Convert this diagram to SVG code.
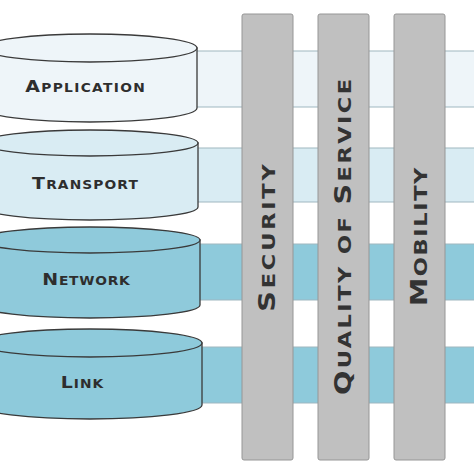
<svg xmlns="http://www.w3.org/2000/svg" width="474" height="474" viewBox="0 0 474 474">
<style>
.band{stroke:#9fb7c0;stroke-width:1}
.cyl{stroke:#3a3a3a;stroke-width:1.3}
.col{fill:#c0c0c0;stroke:#969696;stroke-width:1}
.lbl{font-family:"DejaVu Sans","Liberation Sans",Arial,sans-serif;font-weight:bold;fill:#2e2e2e;text-anchor:middle}
.vl{font-family:"DejaVu Sans","Liberation Sans",Arial,sans-serif;font-weight:bold;fill:#333;text-anchor:middle}
</style>
<rect width="474" height="474" fill="#fff"/>
<g id="bands">
<rect class="band" x="150" y="51" width="330" height="56" fill="#eef5f9"/>
<rect class="band" x="150" y="148" width="330" height="54" fill="#d9ecf3"/>
<rect class="band" x="150" y="244" width="330" height="56" fill="#8ecadb"/>
<rect class="band" x="150" y="347" width="330" height="56" fill="#8ecadb"/>
</g>
<g id="application">
<path class="cyl" fill="#eef5f9" d="M-17,48 L-17,108 A107,14 0 0 0 197,108 L197,48 Z"/>
<ellipse class="cyl" fill="#eef5f9" cx="90" cy="48" rx="107" ry="14"/>
<text class="lbl" transform="translate(85,92) scale(1.15,1)" textLength="104" lengthAdjust="spacing"><tspan font-size="16.5">A</tspan><tspan font-size="12">PPLICATION</tspan></text>
</g>
<g id="transport">
<path class="cyl" fill="#d9ecf3" d="M-18,143 L-18,207 A108,13 0 0 0 198,207 L198,143 Z"/>
<ellipse class="cyl" fill="#d9ecf3" cx="90" cy="143" rx="108" ry="13"/>
<text class="lbl" transform="translate(85,189) scale(1.15,1)" textLength="92" lengthAdjust="spacing"><tspan font-size="16.5">T</tspan><tspan font-size="12">RANSPORT</tspan></text>
</g>
<g id="network">
<path class="cyl" fill="#8fcadb" d="M-20,240 L-20,305 A110,13 0 0 0 200,305 L200,240 Z"/>
<ellipse class="cyl" fill="#8fcadb" cx="90" cy="240" rx="110" ry="13"/>
<text class="lbl" transform="translate(86,285) scale(1.15,1)" textLength="76" lengthAdjust="spacing"><tspan font-size="16.5">N</tspan><tspan font-size="12">ETWORK</tspan></text>
</g>
<g id="link">
<path class="cyl" fill="#8ecadb" d="M-22,343 L-22,405 A112,14 0 0 0 202,405 L202,343 Z"/>
<ellipse class="cyl" fill="#8ecadb" cx="90" cy="343" rx="112" ry="14"/>
<text class="lbl" transform="translate(82,388) scale(1.15,1)" textLength="37" lengthAdjust="spacing"><tspan font-size="16.5">L</tspan><tspan font-size="12">INK</tspan></text>
</g>
<g id="security">
<rect class="col" x="242" y="14" width="51" height="446" rx="2"/>
<text class="vl" transform="translate(275,238) rotate(-90) scale(1.25,1)" textLength="118" lengthAdjust="spacing"><tspan font-size="23">S</tspan><tspan font-size="18">ECURITY</tspan></text>
</g>
<g id="qos">
<rect class="col" x="318" y="14" width="51" height="446" rx="2"/>
<text class="vl" transform="translate(351,237) rotate(-90) scale(1.25,1)" textLength="253" lengthAdjust="spacing"><tspan font-size="23">Q</tspan><tspan font-size="18">UALITY OF </tspan><tspan font-size="23">S</tspan><tspan font-size="18">ERVICE</tspan></text>
</g>
<g id="mobility">
<rect class="col" x="394" y="14" width="51" height="446" rx="2"/>
<text class="vl" transform="translate(427,237) rotate(-90) scale(1.25,1)" textLength="111" lengthAdjust="spacing"><tspan font-size="23">M</tspan><tspan font-size="18">OBILITY</tspan></text>
</g>
<g id="connectors"></g>
</svg>
